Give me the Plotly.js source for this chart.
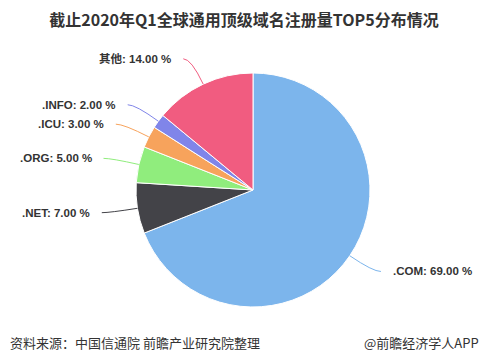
<!DOCTYPE html>
<html>
<head>
<meta charset="utf-8">
<script src="https://cdn.plot.ly/plotly-3.0.1.min.js"></script>
<style>html,body{margin:0;padding:0;background:#fff;}#chart{width:488px;height:358px;}</style>
</head>
<body>
<div id="chart"></div>
<script>
var labels = ['.COM', '.NET', '.ORG', '.ICU', '.INFO', '其他'];
var values = [69, 7, 5, 3, 2, 14];
var colors = ['#7cb5ec', '#434348', '#90ed7d', '#f7a35c', '#8085e9', '#f15c80'];
var titleText = '截止2020年Q1全球通用顶级域名注册量TOP5分布情况';
var sourceText = '资料来源：中国信通院 前瞻产业研究院整理';
var brandText = '@前瞻经济学人APP';

var W = 488, H = 358;
var dom = {x: [0.2787, 0.7582], y: [0.1425, 0.7961]};
var cx = W * (dom.x[0] + dom.x[1]) / 2;
var cy = H * (1 - (dom.y[0] + dom.y[1]) / 2);
var r = Math.min(W * (dom.x[1] - dom.x[0]), H * (dom.y[1] - dom.y[0])) / 2;
var L1 = 28, L2 = 8, GAP = 10;
var labFont = {family: 'Liberation Sans, Noto Sans CJK SC, sans-serif', size: 11.5, color: '#333333', weight: 'bold'};

var total = values.reduce(function(a, b) { return a + b; }, 0);
var shapes = [], annotations = [];
var acc = 0;
function px(x) { return x / W; }
function py(y) { return 1 - y / H; }
values.forEach(function(v, i) {
  var mid = (acc + v / 2) / total * 2 * Math.PI;
  acc += v;
  var sx = Math.sin(mid), sy = -Math.cos(mid);
  var p0 = [cx + r * sx, cy + r * sy];
  var p1 = [p0[0] + L1 * sx, p0[1] + L1 * sy];
  var dir = sx >= 0 ? 1 : -1;
  var p2 = [p1[0] + dir * L2, p1[1]];
  shapes.push({
    type: 'path', xref: 'paper', yref: 'paper',
    path: 'M ' + px(p0[0]) + ' ' + py(p0[1]) + ' Q ' + px(p1[0]) + ' ' + py(p1[1]) + ' ' + px(p2[0]) + ' ' + py(p2[1]),
    line: {color: colors[i], width: 1}
  });
  annotations.push({
    xref: 'paper', yref: 'paper', x: px(p2[0] + dir * GAP), y: py(p2[1]),
    xanchor: dir > 0 ? 'left' : 'right', yanchor: 'middle', showarrow: false,
    text: labels[i] + ': ' + v.toFixed(2) + ' %', font: labFont
  });
});

annotations.push({
  xref: 'paper', yref: 'paper', x: px(8), y: py(342), xanchor: 'left', yanchor: 'middle', showarrow: false,
  text: sourceText, font: {family: 'Noto Sans CJK SC, sans-serif', size: 13, color: '#333333'}
});
annotations.push({
  xref: 'paper', yref: 'paper', x: px(481), y: py(342), xanchor: 'right', yanchor: 'middle', showarrow: false,
  text: brandText, font: {family: 'Noto Sans CJK SC, sans-serif', size: 13, color: '#333333'}
});

var trace = {
  type: 'pie', labels: labels, values: values, sort: false, direction: 'clockwise', rotation: 0,
  marker: {colors: colors, line: {color: '#ffffff', width: 1}},
  textinfo: 'none', hoverinfo: 'label+percent', domain: dom, showlegend: false
};

var layout = {
  width: W, height: H, margin: {l: 0, r: 0, t: 0, b: 0},
  paper_bgcolor: '#ffffff', plot_bgcolor: '#ffffff', showlegend: false,
  title: {text: titleText, x: 0.5, xanchor: 'center', y: py(20), yanchor: 'middle',
    font: {family: 'Noto Sans CJK SC, sans-serif', size: 16, color: '#333333', weight: 'bold'}},
  shapes: shapes, annotations: annotations
};
Plotly.newPlot('chart', [trace], layout, {displayModeBar: false, staticPlot: true});
</script>
</body>
</html>
